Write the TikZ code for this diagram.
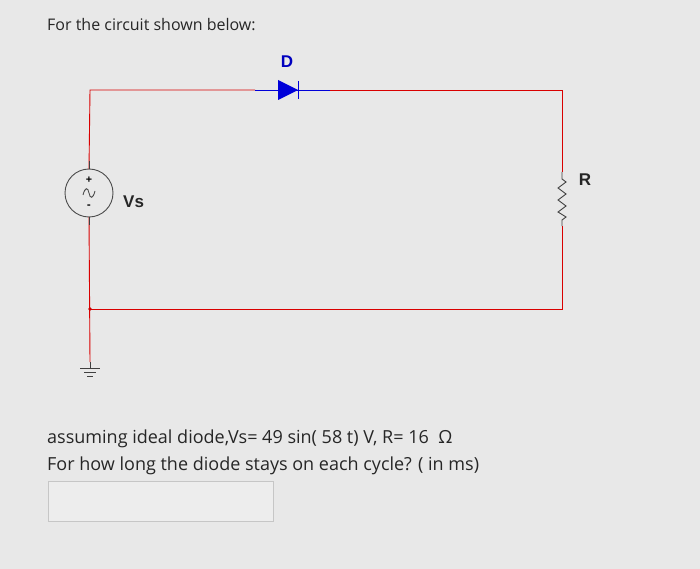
\documentclass[tikz,border=0pt]{standalone}
\usepackage{fontspec}
\setmainfont{Open Sans}
\newfontfamily\lab{Liberation Sans}
\begin{document}
\begin{tikzpicture}[x=1pt,y=-1pt,
  wire/.style={draw=red!75!black!60!red, line width=0.9pt},
  blk/.style={draw=black!75, line width=0.9pt},
  txt/.style={anchor=base west, inner sep=0, text=black!85},
  lbl/.style={inner sep=0, font=\lab\bfseries\fontsize{17}{19}\selectfont}]
\fill[gray!18] (0,0) rectangle (700,569);
\useasboundingbox (0,0) rectangle (700,569);
\node[txt, font=\fontsize{16}{18}\selectfont] (t1) at (47,31) {For the circuit shown below:};
% coordinates
\coordinate (tl) at (90,90);
\coordinate (tr) at (562,90);
\coordinate (bl) at (90,309);
\coordinate (br) at (562,309);
\coordinate (gnd) at (90,362);
\coordinate (da) at (255,90);
\coordinate (dk) at (330,90);
\coordinate (ra) at (562,172);
\coordinate (rb) at (562,226);
\coordinate (vsc) at (89,193);
\coordinate (vsn) at (89,169);
\coordinate (vss) at (89,217);
% source
\draw[black!70, line width=0.9pt] (vsc) circle (24);
\node[inner sep=0, font=\bfseries\fontsize{11}{11}\selectfont] (vp) at (89,180) {+};
\node[inner sep=0, font=\bfseries\fontsize{11}{11}\selectfont] (vm) at (89,207) {-};
\draw[black!70, line width=0.9pt] (83,195) .. controls (85,187) and (88,187) .. (89,193) .. controls (90,199) and (93,199) .. (95,191);
\node[lbl, anchor=west, text=black!85] (vsl) at (123,202) {Vs};
% wires
\draw[wire] (vsn) -- (tl) -- (da);
\draw[blk] (vsn) -- ++(0,-8);
\draw[wire] (vss) -- (gnd);
\draw[blk] (vss) -- ++(0,8);
\draw[wire] (dk) -- (tr) -- (ra);
\draw[wire] (rb) -- (br) -- (bl);
\fill[red!80!black] (bl) circle (1.8);
% diode
\draw[blue!85!black, line width=0.9pt] (da) -- (dk);
\fill[blue!85!black] (278,80) -- (298,90) -- (278,100) -- cycle;
\draw[blue!85!black, line width=1pt] (298,81) -- (298,99);
\node[lbl, text=blue!75!black] (dl) at (287,62) {D};
% resistor
\draw[blk] (ra) -- (562,179) -- (566,182) -- (558,188) -- (566,194) -- (558,200) -- (566,206) -- (558,212) -- (566,217) -- (562,220) -- (rb);
\node[lbl, text=black!85] (rl) at (585,180) {R};
% ground
\draw[blk] (gnd) -- (90,368);
\draw[blk] (80,368) -- (100,368);
\draw[blk] (84,372) -- (96,372);
\draw[blk] (87,376) -- (93,376);
% question
\node[txt, font=\fontsize{18}{20}\selectfont] (t2) at (47,443) {assuming ideal diode,Vs= 49 sin( 58 t) V, R= 16\ \ Ω};
\node[txt, font=\fontsize{18}{20}\selectfont] (t3) at (47,470) {For how long the diode stays on each cycle? ( in ms)};
\draw[gray!45, line width=1pt, fill=gray!14] (48,481) rectangle (273,521);
\end{tikzpicture}
\end{document}
